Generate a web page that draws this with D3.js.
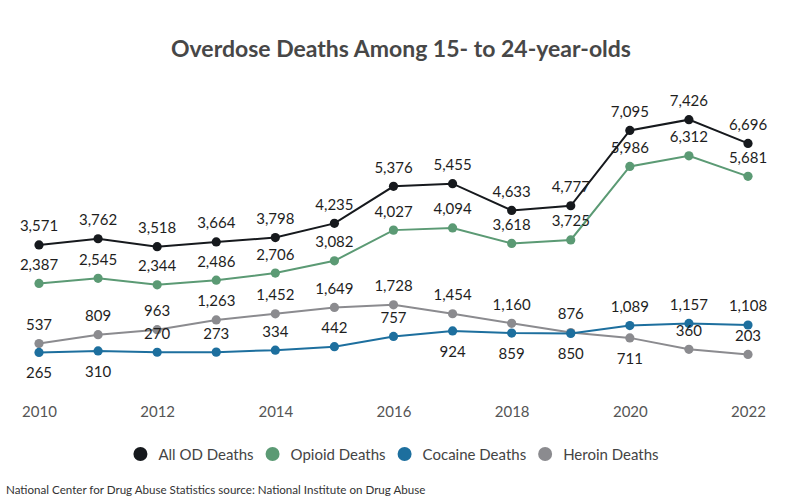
<!DOCTYPE html>
<html>
<head>
<meta charset="utf-8">
<script src="https://cdn.jsdelivr.net/npm/d3@7"></script>
<style>
  body { margin: 0; background: #fff; }
  svg { display: block; font-family: Lato, "Open Sans", sans-serif; }
</style>
</head>
<body>
<svg id="chart" width="800" height="500"></svg>
<script>
const years = [2010, 2011, 2012, 2013, 2014, 2015, 2016, 2017, 2018, 2019, 2020, 2021, 2022];
const tickYears = [2010, 2012, 2014, 2016, 2018, 2020, 2022];
const seriesNames = ["All OD Deaths", "Opioid Deaths", "Cocaine Deaths", "Heroin Deaths"];
const allOD   = [3571, 3762, 3518, 3664, 3798, 4235, 5376, 5455, 4633, 4777, 7095, 7426, 6696];
const opioid  = [2387, 2545, 2344, 2486, 2706, 3082, 4027, 4094, 3618, 3725, 5986, 6312, 5681];
const cocaine = [265, 310, 270, 273, 334, 442, 757, 924, 859, 850, 1089, 1157, 1108];
const heroin  = [537, 809, 963, 1263, 1452, 1649, 1728, 1454, 1160, 876, 711, 360, 203];
// years whose value label sits below the point (label layout), per series
const labelsBelow = [[], [], [2010, 2011, 2017, 2018, 2019], [2020]];
const colors = ["#16191d", "#5b9a74", "#1d6f9e", "#8b8b8f"];

const seriesValues = [allOD, opioid, cocaine, heroin];
const svg = d3.select("#chart");

const x = d3.scaleLinear().domain([2010, 2022]).range([39, 748]);
const y = d3.scaleLinear().domain([0, 8000]).range([361, 101]);

// title
svg.append("text")
  .attr("x", 401).attr("y", 57)
  .attr("text-anchor", "middle")
  .attr("font-size", 23).attr("font-weight", 700)
  .attr("fill", "#474747")
  .text("Overdose Deaths Among 15- to 24-year-olds");

// x axis
const xAxis = d3.axisBottom(x).tickValues(tickYears).tickFormat(d3.format("d")).tickSize(0).tickPadding(0);
const gx = svg.append("g").attr("transform", "translate(0,403)").call(xAxis);
gx.select(".domain").remove();
gx.selectAll("text").attr("font-size", 15).attr("fill", "#555").attr("font-family", "Lato, sans-serif").attr("dy", "0.95em");

const line = d3.line().x(d => x(d.year)).y(d => y(d.value));
const fmt = d3.format(",");

// draw series in back-to-front order
const order = [3, 2, 1, 0];
order.forEach(i => {
  const data = years.map((yr, j) => ({ year: yr, value: seriesValues[i][j] }));
  const g = svg.append("g");
  g.append("path").datum(data)
    .attr("d", line).attr("fill", "none")
    .attr("stroke", colors[i]).attr("stroke-width", 2);
  g.selectAll("circle").data(data).join("circle")
    .attr("cx", d => x(d.year)).attr("cy", d => y(d.value))
    .attr("r", 4.6).attr("fill", colors[i]);
});

// labels on top
order.forEach(i => {
  const data = years.map((yr, j) => ({ year: yr, value: seriesValues[i][j] }));
  svg.append("g").selectAll("text").data(data).join("text")
    .attr("x", d => x(d.year))
    .attr("y", d => y(d.value) + (labelsBelow[i].includes(d.year) ? 26 : -13.5))
    .attr("text-anchor", "middle")
    .attr("font-size", 15).attr("fill", "#1e1e1e")
    .text(d => fmt(d.value));
});

// legend
const leg = svg.append("g");
let cx = 0;
seriesNames.forEach((name, i) => {
  const gi = leg.append("g");
  gi.append("circle").attr("cx", 0).attr("cy", 0).attr("r", 7).attr("fill", colors[i]);
  const t = gi.append("text").attr("x", 18).attr("y", 5.5)
    .attr("font-size", 15).attr("fill", "#444").text(name);
  const w = t.node().getComputedTextLength();
  gi.attr("transform", `translate(${cx},454)`);
  cx += 18 + w + 19;
});
const totalW = cx - 19 + 7;
leg.attr("transform", `translate(${400 - totalW / 2 + 3},0)`);

// source
svg.append("text")
  .attr("x", 6).attr("y", 494)
  .attr("font-size", 11.6).attr("fill", "#333")
  .text("National Center for Drug Abuse Statistics source: National Institute on Drug Abuse");
</script>
</body>
</html>
